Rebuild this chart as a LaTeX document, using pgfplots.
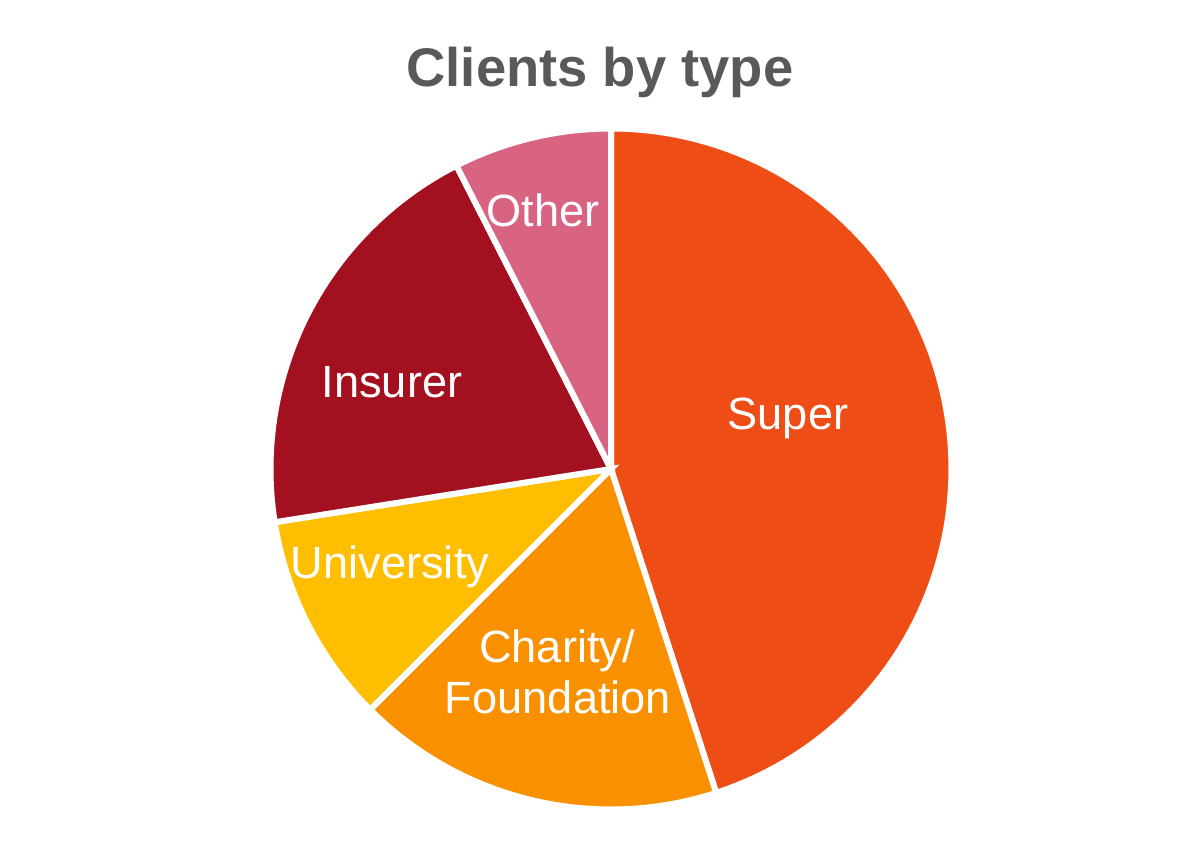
\documentclass[border=0pt]{standalone}
\usepackage{fontspec}
\setmainfont{Liberation Sans}
\usepackage{pgfplots}
\usepackage{pgfplotstable}
\pgfplotsset{compat=1.18}
\definecolor{c0}{RGB}{238,77,22}
\definecolor{c1}{RGB}{249,144,0}
\definecolor{c2}{RGB}{255,190,0}
\definecolor{c3}{RGB}{163,17,32}
\definecolor{c4}{RGB}{216,99,130}
\definecolor{titlegray}{RGB}{89,89,89}
\pgfplotstableread{
label value
Super 45
Charity 17.5
University 10
Insurer 20
Other 7.5
}\piedata
\begin{document}
\begin{tikzpicture}
\begin{axis}[
  scale only axis, width=600bp, height=424.5bp,
  xmin=0, xmax=1200, ymin=0, ymax=849,
  hide axis, clip=false,
]
\path (rel axis cs:0,0) rectangle (rel axis cs:1,1);
\pgfmathsetmacro{\cum}{0}
\pgfplotsforeachungrouped \i in {0,...,4}{
  \pgfplotstablegetelem{\i}{value}\of\piedata
  \pgfmathsetmacro{\va}{90-3.6*\cum}
  \pgfmathsetmacro{\cum}{\cum+\pgfplotsretval}
  \pgfmathsetmacro{\vb}{90-3.6*\cum}
  \edef\temp{\noexpand\addplot[fill=c\i, draw=white, line width=3bp, line join=miter, domain=\vb:\va, samples=90, variable=\noexpand\t]
    ({611+340.5*cos(\noexpand\t)},{380+340.5*sin(\noexpand\t)}) -- (axis cs:611,380) -- cycle;}
  \temp
}
\node[anchor=base, text=titlegray, font=\fontsize{27.2bp}{32bp}\selectfont\bfseries] at (axis cs:600,762) {Clients by type};
\begin{scope}[every node/.style={anchor=base, text=white, font=\fontsize{22.6bp}{25.5bp}\selectfont, inner sep=0pt}]
\node at (axis cs:788,419) {Super};
\node at (axis cs:557,186) {Charity/};
\node at (axis cs:558,135) {Foundation};
\node at (axis cs:390,270) {University};
\node at (axis cs:392,451) {Insurer};
\node at (axis cs:543,622) {Other};
\end{scope}
\end{axis}
\end{tikzpicture}
\end{document}
